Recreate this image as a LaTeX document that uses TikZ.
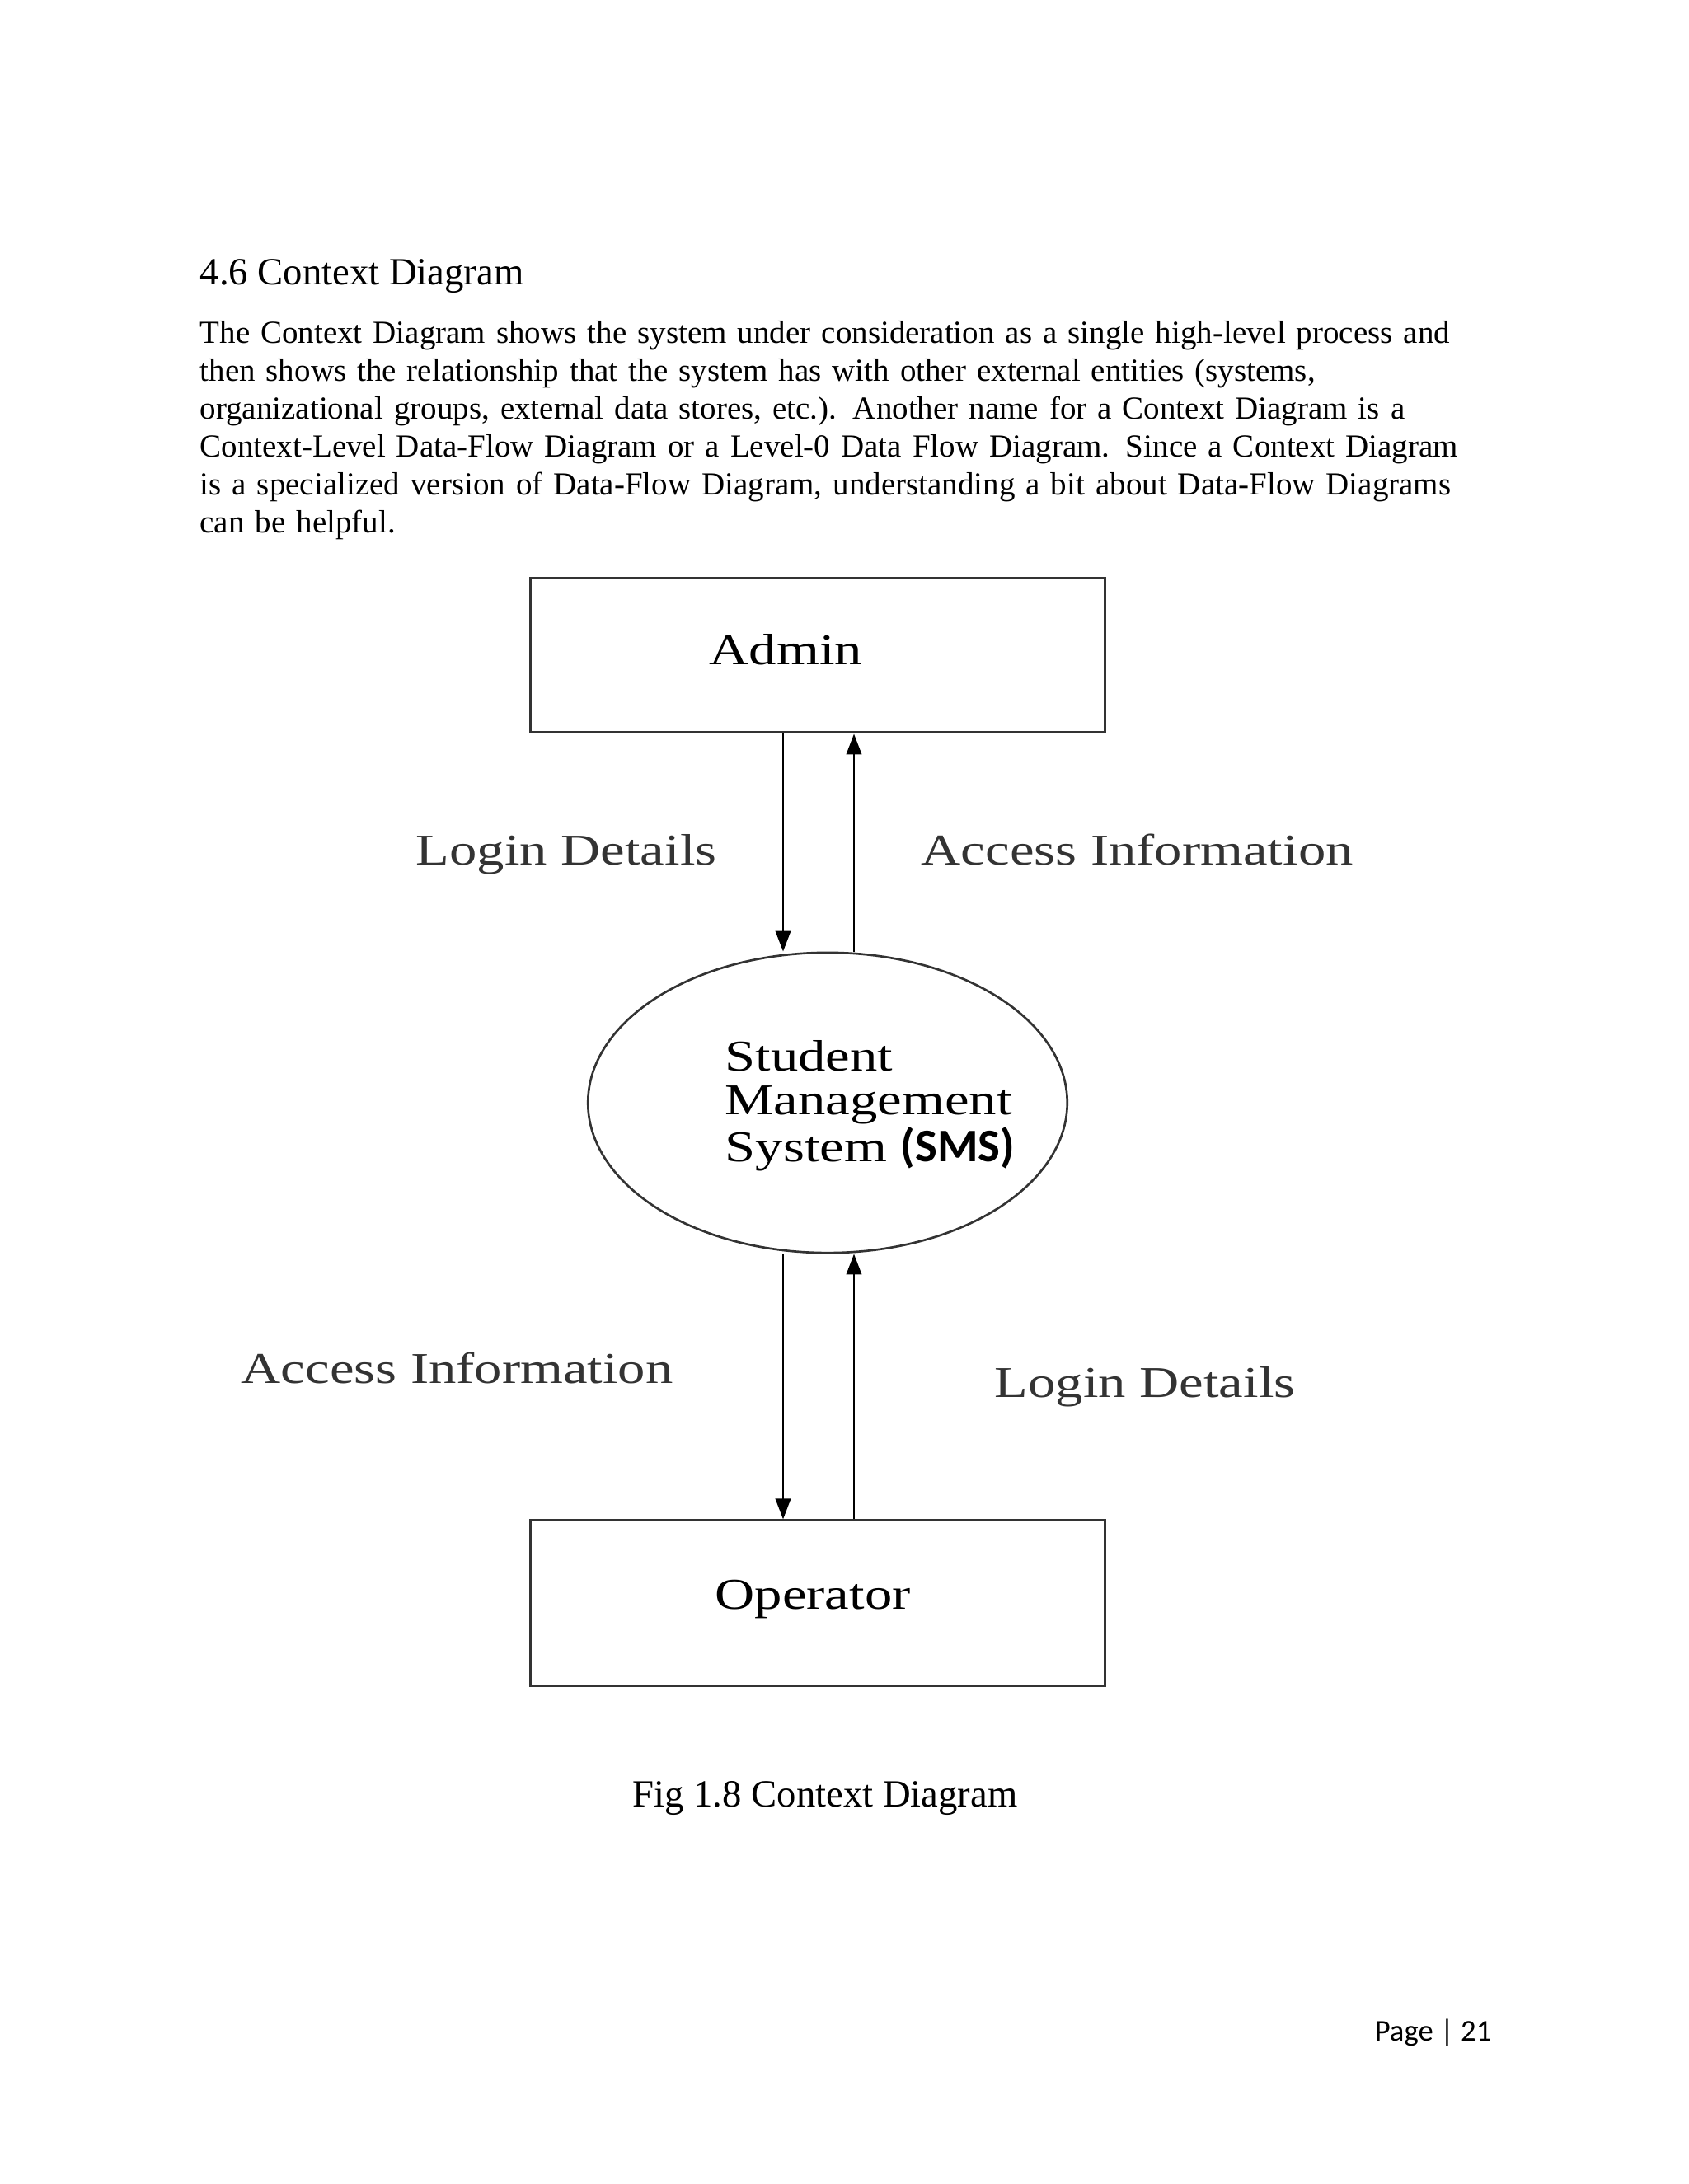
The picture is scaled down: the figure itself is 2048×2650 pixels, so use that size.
\documentclass[tikz,border=0pt]{standalone}
\usepackage{fontspec}
\setmainfont{Liberation Serif}
\newfontfamily\dgmfont[FakeStretch=1.25]{Liberation Serif}
\newfontfamily\pagefont{Carlito}
\usetikzlibrary{shapes}
\usetikzlibrary{arrows.meta}
\definecolor{inkgray}{HTML}{333333}
\tikzset{
	ent_box/.style = {rectangle, draw=inkgray, line width=0.9pt,
		minimum width=73.4mm, minimum height=19.8mm, inner sep=0pt},% external entity
	proc_ell/.style = {ellipse, draw=inkgray, line width=0.8pt,
		minimum width=61.3mm, minimum height=38.4mm, inner sep=0pt},% process
	dgm_txt/.style = {inner sep=0pt, anchor=base west,
		font=\dgmfont\fontsize{16}{15.7}\selectfont},% text in the figure
	flow_lbl/.style = {dgm_txt, text=inkgray},% data flow label
	flow/.style = {-{Triangle[width=5.5pt,length=7.5pt]}, line width=0.8pt}% data flow
}
\begin{document}
\begin{tikzpicture}[x=0.10542mm, y=-0.10542mm]
	\useasboundingbox[fill=white] (0,0) rectangle (2048,2650);
	\node [anchor=base west, inner sep=0pt, font=\fontsize{14}{16}\selectfont] (title) at (242,345) {4.6 Context Diagram};
	\node [anchor=base west, inner sep=0pt, text width=175mm, align=left,
		font=\fontsize{11.7}{13.85}\selectfont] (intro) at (242,416)
		{The Context Diagram shows the system under consideration as a single high-level process and\\
		then shows the relationship that the system has with other external entities (systems,\\
		organizational groups, external data stores, etc.). Another name for a Context Diagram is a\\
		Context-Level Data-Flow Diagram or a Level-0 Data Flow Diagram. Since a Context Diagram\\
		is a specialized version of Data-Flow Diagram, understanding a bit about Data-Flow Diagrams\\
		can be helpful.};
	% figure
	\node [ent_box] (admin) at (992,795) {};
	\node [dgm_txt] (admin_txt) at (860,806) {Admin};
	\node [proc_ell] (sms) at (1004,1338) {};
	\node [dgm_txt, align=left] (sms_txt) at (879,1409)
		{Student\\Management\\System {\pagefont\bfseries\fontsize{17}{15.7}\selectfont(SMS)}};
	\node [ent_box, minimum height=21.1mm] (operator) at (992,1945) {};
	\node [dgm_txt] (operator_txt) at (867,1952) {Operator};
	\draw [flow] ([shift={(-42,0)}]admin.south) -- ([shift={(-54,0)}]sms.north);
	\draw [flow] ([shift={(32,0)}]sms.north) -- ([shift={(44,0)}]admin.south);
	\draw [flow] ([shift={(-54,0)}]sms.south) -- ([shift={(-42,0)}]operator.north);
	\draw [flow] ([shift={(44,0)}]operator.north) -- ([shift={(32,0)}]sms.south);
	\node [flow_lbl] (login_up) at (504,1049) {Login Details};
	\node [flow_lbl] (access_up) at (1117,1049) {Access Information};
	\node [flow_lbl] (access_down) at (292,1678) {Access Information};
	\node [flow_lbl] (login_down) at (1206,1695) {Login Details};
	\node [anchor=base, inner sep=0pt, font=\fontsize{14}{16}\selectfont] (caption) at (1001,2192) {Fig 1.8 Context Diagram};
	\node [anchor=base east, inner sep=0pt, font=\pagefont\fontsize{11}{13}\selectfont] (pageno) at (1810,2476) {Page | 21};
\end{tikzpicture}
\end{document}
